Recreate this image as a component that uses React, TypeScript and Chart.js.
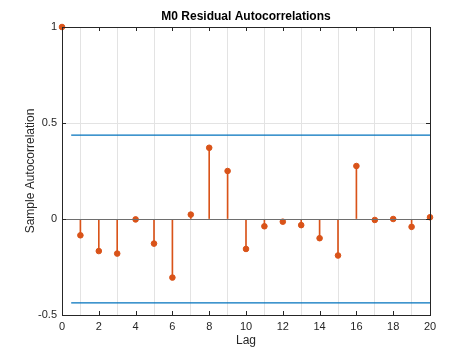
import React, { useEffect, useRef } from "react";
import { Chart, registerables } from "chart.js";

Chart.register(...registerables);

const lags = [0, 1, 2, 3, 4, 5, 6, 7, 8, 9, 10, 11, 12, 13, 14, 15, 16, 17, 18, 19, 20];
const acf = [1, -0.085, -0.167, -0.18, -0.002, -0.128, -0.305, 0.023, 0.371, 0.25, -0.156, -0.038, -0.014, -0.032, -0.1, -0.19, 0.276, -0.005, 0.0, -0.041, 0.009];
const boundUpper = 0.437;
const boundLower = -0.437;
const boundStart = 0.5;
const boundEnd = 20;
const xTicks = [0, 2, 4, 6, 8, 10, 12, 14, 16, 18, 20];
const yTicks = [-0.5, 0, 0.5, 1];
const titleText = "M0 Residual Autocorrelations";
const xLabel = "Lag";
const yLabel = "Sample Autocorrelation";

const FONT = "'Liberation Sans', Arial, Helvetica, sans-serif";
const AX = "#262626";
const STEM = "#D95319";
const BLUE = "#0072BD";

const boxPlugin = {
  id: "matlabBox",
  afterDatasetsDraw(chart: any) {
    const { ctx, chartArea: a, scales } = chart;
    ctx.save();
    const y0 = scales.y.getPixelForValue(0);
    ctx.strokeStyle = "#6e6e6e";
    ctx.lineWidth = 1;
    ctx.beginPath();
    ctx.moveTo(a.left, Math.round(y0) + 0.5);
    ctx.lineTo(a.right, Math.round(y0) + 0.5);
    ctx.stroke();
    ctx.restore();
  },
  afterDraw(chart: any) {
    const { ctx, chartArea: a, scales } = chart;
    ctx.save();
    ctx.strokeStyle = AX;
    ctx.lineWidth = 1;
    ctx.strokeRect(Math.round(a.left) + 0.5, Math.round(a.top) + 0.5, Math.round(a.right - a.left), Math.round(a.bottom - a.top));
    const tl = 4;
    ctx.beginPath();
    xTicks.forEach((v) => {
      const px = Math.round(scales.x.getPixelForValue(v)) + 0.5;
      ctx.moveTo(px, a.bottom);
      ctx.lineTo(px, a.bottom - tl);
      ctx.moveTo(px, a.top);
      ctx.lineTo(px, a.top + tl);
    });
    yTicks.forEach((v) => {
      const py = Math.round(scales.y.getPixelForValue(v)) + 0.5;
      ctx.moveTo(a.left, py);
      ctx.lineTo(a.left + tl, py);
      ctx.moveTo(a.right, py);
      ctx.lineTo(a.right - tl, py);
    });
    ctx.stroke();
    // title centred over the axes area (MATLAB style)
    ctx.fillStyle = "#000";
    ctx.font = `bold 12px ${FONT}`;
    ctx.textAlign = "center";
    ctx.textBaseline = "middle";
    ctx.fillText(titleText, (a.left + a.right) / 2, 17);
    ctx.restore();
  },
};

export default function App() {
  const ref = useRef<HTMLCanvasElement | null>(null);
  useEffect(() => {
    if (!ref.current) return;
    const points = lags.map((l, i) => ({ x: l, y: acf[i] }));
    const chart = new Chart(ref.current, {
      type: "bar",
      data: {
        datasets: [
          {
            type: "bar",
            data: points,
            backgroundColor: STEM,
            borderWidth: 0,
            barThickness: 1,
            order: 2,
          } as any,
          {
            type: "scatter",
            data: points,
            backgroundColor: STEM,
            borderColor: STEM,
            pointRadius: 2.8,
            pointHoverRadius: 2.8,
            clip: false,
            order: 1,
          } as any,
          {
            type: "line",
            data: [
              { x: boundStart, y: boundUpper },
              { x: boundEnd, y: boundUpper },
            ],
            borderColor: BLUE,
            borderWidth: 1.3,
            pointRadius: 0,
            order: 0,
          } as any,
          {
            type: "line",
            data: [
              { x: boundStart, y: boundLower },
              { x: boundEnd, y: boundLower },
            ],
            borderColor: BLUE,
            borderWidth: 1.3,
            pointRadius: 0,
            order: 0,
          } as any,
        ],
      },
      options: {
        animation: false,
        responsive: false,
        maintainAspectRatio: false,
        layout: { padding: { left: 0, right: 44, top: 27, bottom: 0 } },
        plugins: {
          legend: { display: false },
          tooltip: { enabled: false },
          title: { display: false },
        },
        scales: {
          x: {
            type: "linear",
            min: 0,
            max: 20,
            offset: false,
            afterBuildTicks: (s: any) => {
              s.ticks = xTicks.map((v) => ({ value: v }));
            },
            afterFit: (s: any) => {
              s.height = 40;
            },
            grid: { color: "#e3e3e3", drawTicks: false, lineWidth: 1 },
            border: { display: true, color: AX },
            ticks: {
              color: AX,
              font: { family: FONT, size: 11 },
              padding: 5,
              maxRotation: 0,
              autoSkip: false,
            },
            title: {
              display: true,
              text: xLabel,
              color: AX,
              font: { family: FONT, size: 12 },
              padding: { top: 0, bottom: 7 },
            },
          },
          y: {
            type: "linear",
            min: -0.5,
            max: 1,
            afterBuildTicks: (s: any) => {
              s.ticks = yTicks.map((v) => ({ value: v }));
            },
            afterFit: (s: any) => {
              s.width = 62;
            },
            grid: { color: "#e3e3e3", drawTicks: false, lineWidth: 1 },
            border: { display: true, color: AX },
            ticks: {
              color: AX,
              font: { family: FONT, size: 11 },
              padding: 5,
              callback: (v: any) => String(v),
            },
            title: {
              display: true,
              text: yLabel,
              color: AX,
              font: { family: FONT, size: 12 },
              padding: { top: 23, bottom: 0 },
            },
          },
        },
      } as any,
      plugins: [boxPlugin],
    });
    return () => chart.destroy();
  }, []);
  return (
    <div style={{ position: "absolute", left: 0, top: 0, width: 474, height: 355, background: "#fff" }}>
      <canvas ref={ref} width={474} height={355} style={{ width: 474, height: 355 }} />
    </div>
  );
}
